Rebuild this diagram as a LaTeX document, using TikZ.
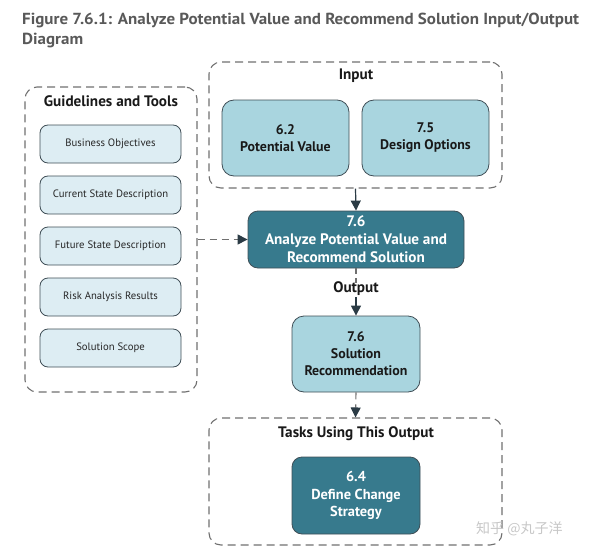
\documentclass[tikz,border=0pt]{standalone}
\usepackage{fontspec}
\setmainfont{PT Sans}
\newfontfamily\cjkfont{Noto Sans CJK SC}
\usetikzlibrary{arrows.meta}
\definecolor{lightbox}{HTML}{A9D5DF}
\definecolor{darkbox}{HTML}{377A8D}
\definecolor{paleBox}{HTML}{DDEDF3}
\definecolor{edgecol}{HTML}{3F4E56}
\definecolor{dashcol}{HTML}{707070}
\definecolor{arrcol}{HTML}{2B3B45}
\definecolor{titlecol}{HTML}{595959}
\tikzset{
  container/.style={draw=dashcol, dash pattern=on 8pt off 5pt, line width=1.1pt, rounded corners=12pt, inner sep=0pt},
  guidebox/.style={draw=edgecol, line width=0.8pt, fill=paleBox, rounded corners=8pt, minimum width=141pt, minimum height=38pt, font=\fontsize{10.7}{13}\selectfont, text=black!85},
  inbox/.style={draw=edgecol, line width=0.8pt, fill=lightbox, rounded corners=12pt, minimum width=127pt, minimum height=76pt, align=center, font=\bfseries\fontsize{13.9}{17}\selectfont, text=black!90},
  taskbox/.style={draw=edgecol, line width=0.8pt, fill=darkbox, rounded corners=10pt, align=center, font=\bfseries\fontsize{14.4}{17.5}\selectfont, text=white},
  grouptitle/.style={font=\bfseries\fontsize{15.2}{17}\selectfont, text=black!90, inner sep=1pt},
  titletext/.style={anchor=base west, inner sep=0pt, text=titlecol, font=\bfseries\fontsize{16}{18}\selectfont},
  arr/.style={draw=arrcol, line width=1.2pt, -{Triangle[length=10pt,width=10pt,fill=arrcol]}},
  dasharr/.style={draw=dashcol, line width=1.1pt, dash pattern=on 7pt off 5pt, -{Triangle[length=10pt,width=10pt,fill=arrcol,color=arrcol]}},
}
\begin{document}
\begin{tikzpicture}[x=1pt,y=-1pt]
\useasboundingbox (0,0) rectangle (600,554);
% title
\node[titletext] (title1) at (22,24) {\scalebox{1.06}[1]{Figure 7.6.1: Analyze Potential Value and Recommend Solution Input/Output}};
\node[titletext] (title2) at (22,44) {\scalebox{1.06}[1]{Diagram}};
% guidelines container
\node[container, minimum width=172pt, minimum height=305pt] (guide) at (111,239.5) {};
\node[grouptitle] (guidetitle) at (111,101) {Guidelines and Tools};
\node[guidebox] (g1) at (110.5,144) {Business Objectives};
\node[guidebox] (g2) at (110.5,195) {Current State Description};
\node[guidebox] (g3) at (110.5,246) {Future State Description};
\node[guidebox] (g4) at (110.5,297) {Risk Analysis Results};
\node[guidebox] (g5) at (110.5,348) {Solution Scope};
% input container
\node[container, minimum width=293pt, minimum height=126pt] (input) at (355.5,125) {};
\node[grouptitle] (inputtitle) at (356,76) {Input};
\node[inbox] (i1) at (285.5,138) {6.2\\Potential Value};
\node[inbox] (i2) at (425.5,138) {7.5\\Design Options};
% main task
\node[taskbox, minimum width=216pt, minimum height=57pt, font=\bfseries\fontsize{15.2}{18}\selectfont] (main) at (356,239.5) {7.6\\Analyze Potential Value and\\Recommend Solution};
% output
\node[grouptitle] (outlbl) at (356,289) {Output};
\node[inbox, minimum width=128pt] (sol) at (356,354) {7.6\\Solution\\Recommendation};
% tasks container
\node[container, minimum width=293pt, minimum height=127pt] (tasks) at (355.5,481.5) {};
\node[grouptitle] (taskstitle) at (356,434) {Tasks Using This Output};
\node[taskbox, minimum width=128pt, minimum height=77pt] (t1) at (356,495.5) {6.4\\Define Change\\Strategy};
% connectors
\draw[arr] (input.south) -- (main.north);
\draw[dasharr] (guide.east |- main.west) -- (main.west);
\draw[draw=dashcol, line width=1.1pt, dash pattern=on 6pt off 4pt] (main.south) -- ([yshift=-2pt]outlbl.north);
\draw[arr] (outlbl.south) -- (sol.north);
\draw[dasharr] (sol.south) -- (tasks.north);
% watermark
\node[anchor=base west, inner sep=0pt, text=black!22, font=\cjkfont\fontsize{14}{16}\selectfont] (wm) at (476,533) {知乎 @丸子洋};
\end{tikzpicture}
\end{document}
